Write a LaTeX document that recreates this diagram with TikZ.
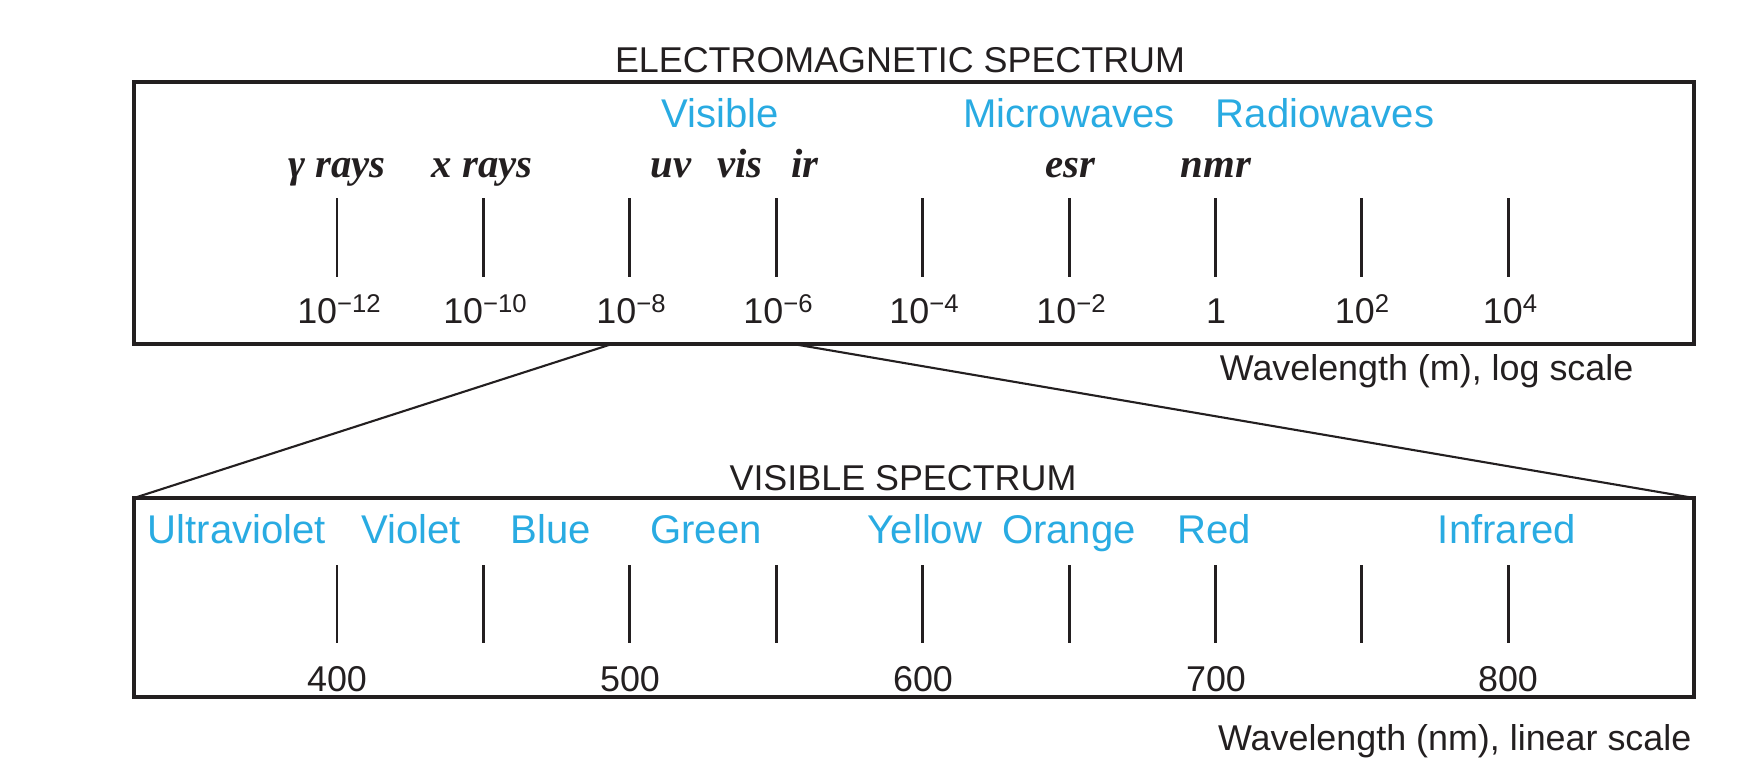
\documentclass[tikz,border=0pt]{standalone}
\usepackage{fontspec}
\setmainfont{Liberation Sans}
\newfontfamily\techserif{Liberation Serif}
\definecolor{specblue}{RGB}{41,171,226}
\definecolor{ink}{RGB}{35,31,32}
\newcommand\supx[1]{\raisebox{3.0pt}{\fontsize{7.3}{7.3}\selectfont #1}}
\begin{document}
\begin{tikzpicture}[x=0.01cm,y=-0.01cm,
  lbl/.style={inner sep=0pt, anchor=base, text=ink},
  ttl/.style={lbl, font=\fontsize{10.2}{12}\selectfont},
  band/.style={inner sep=0pt, anchor=base, text=specblue, font=\fontsize{11.4}{13}\selectfont},
  tech/.style={lbl, font=\techserif\bfseries\itshape\fontsize{11.6}{13}\selectfont},
  num/.style={lbl, font=\fontsize{10.2}{12}\selectfont},
  frame/.style={draw=ink, line width=1pt},
  tickline/.style={draw=ink, line width=0.85pt},
  zoomline/.style={draw=ink, line width=0.6pt}]

\useasboundingbox (0,0) rectangle (1748,772);

% ---------- top box: electromagnetic spectrum ----------
\coordinate (emTL) at (134,82);
\coordinate (emBR) at (1694,344);
\draw[frame] (emTL) rectangle (emBR);
\node[ttl] (emtitle) at (900,72) {ELECTROMAGNETIC SPECTRUM};

\node[band] (visible) at (720,127) {Visible};
\node[band] (micro) at (1069,127) {Microwaves};
\node[band] (radio) at (1325,127) {Radiowaves};

\node[tech] (gamma) at (337,177) {γ rays};
\node[tech] (xray) at (482,177) {x rays};
\node[tech] (uv) at (671,177) {uv};
\node[tech] (vis) at (740,177) {vis};
\node[tech] (ir) at (805,177) {ir};
\node[tech] (esr) at (1070,177) {esr};
\node[tech] (nmr) at (1216,177) {nmr};

\foreach \i in {0,...,8} {
  \draw[tickline] ({337+146.4*\i},198) -- ({337+146.4*\i},277);
  \draw[tickline] ({337+146.4*\i},565) -- ({337+146.4*\i},643);
}

\node[num] (m12) at (339,323) {10\supx{−12}};
\node[num] (m10) at (485,323) {10\supx{−10}};
\node[num] (m8) at (631,323) {10\supx{−8}};
\node[num] (m6) at (778,323) {10\supx{−6}};
\node[num] (m4) at (924,323) {10\supx{−4}};
\node[num] (m2) at (1071,323) {10\supx{−2}};
\node[num] (p0) at (1216,323) {1};
\node[num] (p2) at (1362,323) {10\supx{2}};
\node[num] (p4) at (1510,323) {10\supx{4}};

\node[num, anchor=base east] (logscale) at (1634,380) {Wavelength (m), log scale};

% ---------- zoom connectors ----------
\coordinate (zoomL) at (612,344);
\coordinate (zoomR) at (793,344);
\coordinate (visTL) at (134,498);
\coordinate (visTR) at (1694,498);
\coordinate (visBR) at (1694,697);
\draw[zoomline] (zoomL) -- (visTL);
\draw[zoomline] (zoomR) -- (visTR);

% ---------- bottom box: visible spectrum ----------
\draw[frame] (visTL) rectangle (visBR);
\node[ttl] (vistitle) at (903,490) {VISIBLE SPECTRUM};

\node[band] (ultra) at (237,543) {Ultraviolet};
\node[band] (violet) at (411,543) {Violet};
\node[band] (blue) at (551,543) {Blue};
\node[band] (green) at (706,543) {Green};
\node[band] (yellow) at (925,543) {Yellow};
\node[band] (orange) at (1069,543) {Orange};
\node[band] (red) at (1214,543) {Red};
\node[band] (infra) at (1507,543) {Infrared};

\node[num] (n400) at (337,691) {400};
\node[num] (n500) at (630,691) {500};
\node[num] (n600) at (923,691) {600};
\node[num] (n700) at (1216,691) {700};
\node[num] (n800) at (1508,691) {800};

\node[num, anchor=base east] (linscale) at (1692,750) {Wavelength (nm), linear scale};
\end{tikzpicture}
\end{document}
